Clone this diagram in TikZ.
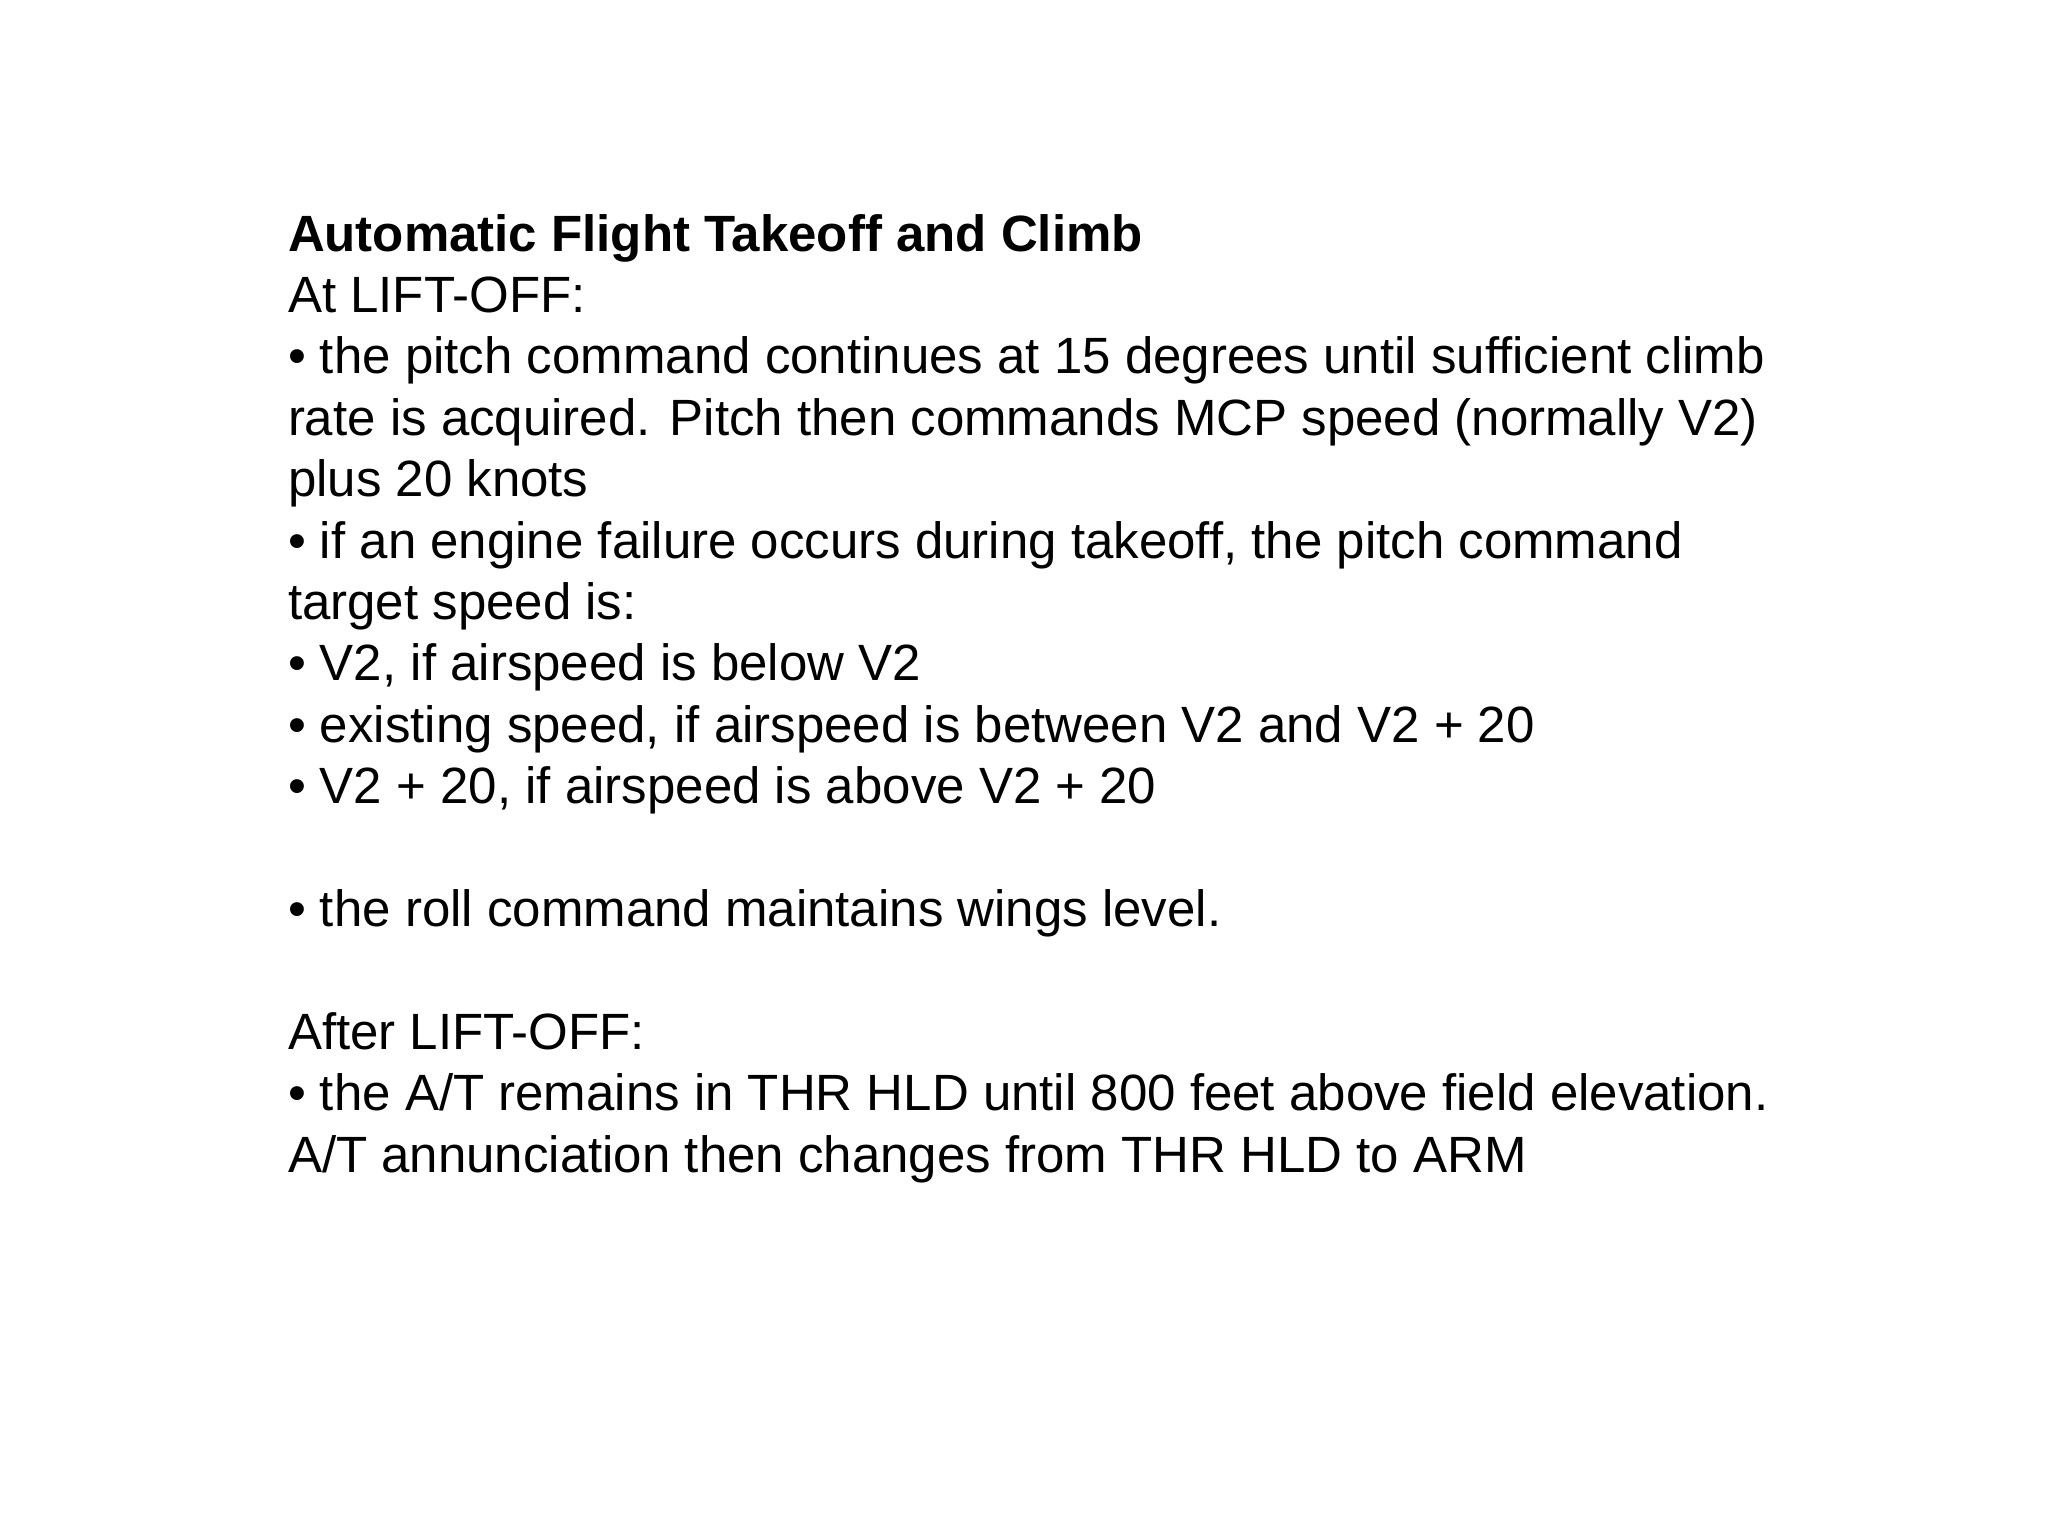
\documentclass[tikz,border=0pt]{standalone}
\usepackage{fontspec}
\setmainfont{Liberation Sans}
\begin{document}
\begin{tikzpicture}[x=1pt,y=1pt,txt/.style={anchor=base west,inner sep=0pt,font=\fontsize{25.5}{30}\selectfont}]
\useasboundingbox[fill=white] (0,0) rectangle (1024,-768);
\def\L{143.8}
\def\S{30.7}
\node[txt,font=\fontsize{25.5}{30}\selectfont\bfseries] (l1) at (\L,-125.5) {Automatic Flight Takeoff and Climb};
\node[txt] (l2) at (\L,-125.5-1*\S) {At LIFT-OFF:};
\node[txt] (l3) at (\L,-125.5-2*\S) {• the pitch command continues at 15 degrees until sufficient climb};
\node[txt] (l4) at (\L,-125.5-3*\S) {rate is acquired. Pitch then commands MCP speed (normally V2)};
\node[txt] (l5) at (\L,-125.5-4*\S) {plus 20 knots};
\node[txt] (l6) at (\L,-125.5-5*\S) {• if an engine failure occurs during takeoff, the pitch command};
\node[txt] (l7) at (\L,-125.5-6*\S) {target speed is:};
\node[txt] (l8) at (\L,-125.5-7*\S) {• V2, if airspeed is below V2};
\node[txt] (l9) at (\L,-125.5-8*\S) {• existing speed, if airspeed is between V2 and V2 + 20};
\node[txt] (l10) at (\L,-125.5-9*\S) {• V2 + 20, if airspeed is above V2 + 20};
\node[txt] (l11) at (\L,-125.5-11*\S) {• the roll command maintains wings level.};
\node[txt] (l12) at (\L,-125.5-13*\S) {After LIFT-OFF:};
\node[txt] (l13) at (\L,-125.5-14*\S) {• the A/T remains in THR HLD until 800 feet above field elevation.};
\node[txt] (l14) at (\L,-125.5-15*\S) {A/T annunciation then changes from THR HLD to ARM};
\end{tikzpicture}
\end{document}
